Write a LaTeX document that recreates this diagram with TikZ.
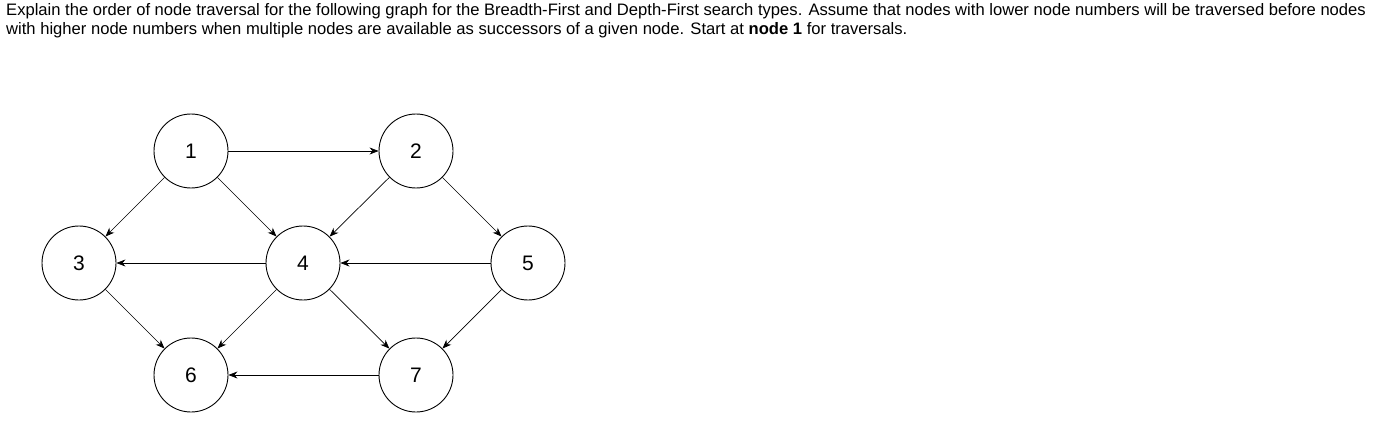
\documentclass[tikz,border=0pt]{standalone}
\usepackage{fontspec}
\setmainfont{Liberation Sans}
\usetikzlibrary{arrows.meta}
\begin{document}
\begin{tikzpicture}[x=1pt,y=-1pt,
  vert/.style={circle,draw,line width=0.9pt,minimum size=74pt,inner sep=0pt,font=\fontsize{21}{23}\selectfont},
  edge/.style={draw,line width=0.7pt,-{Stealth[length=9pt,width=7pt]}},
  every node/.append style={text=black}]
\useasboundingbox (0,0) rectangle (1382,441);
\node[anchor=north west,align=left,inner sep=0pt,font=\fontsize{16.6}{19}\selectfont] (txt) at (6,3)
 {Explain the order of node traversal for the following graph for the Breadth-First and Depth-First search types. Assume that nodes with lower node numbers will be traversed before nodes\\
 with higher node numbers when multiple nodes are available as successors of a given node. Start at \textbf{node 1} for traversals.};
\node[vert] (n1) at (191,151) {1};
\node[vert] (n2) at (416,151) {2};
\node[vert] (n3) at (79,263) {3};
\node[vert] (n4) at (303,263) {4};
\node[vert] (n5) at (528,263) {5};
\node[vert] (n6) at (191,375) {6};
\node[vert] (n7) at (416,375) {7};
\draw[edge] (n1) -- (n2);
\draw[edge] (n1) -- (n3);
\draw[edge] (n1) -- (n4);
\draw[edge] (n2) -- (n4);
\draw[edge] (n2) -- (n5);
\draw[edge] (n4) -- (n3);
\draw[edge] (n5) -- (n4);
\draw[edge] (n3) -- (n6);
\draw[edge] (n4) -- (n6);
\draw[edge] (n4) -- (n7);
\draw[edge] (n5) -- (n7);
\draw[edge] (n7) -- (n6);
\end{tikzpicture}
\end{document}
